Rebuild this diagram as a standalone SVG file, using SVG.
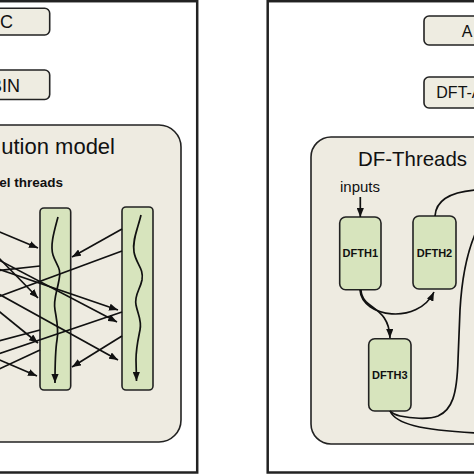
<svg xmlns="http://www.w3.org/2000/svg" width="474" height="474" viewBox="0 0 474 474">
<style>
.frame{fill:#ffffff;stroke:#222;stroke-width:2.5}
.box{fill:#eeece1;stroke:#222;stroke-width:1.6}
.panel{fill:#eeebe1;stroke:#222;stroke-width:1.6}
.thr{fill:#d7e4bd;stroke:#222;stroke-width:1.6}
.lbl{font-family:"Liberation Sans",Arial,sans-serif;fill:#111}
.b{font-weight:bold}
.ln{fill:none;stroke:#111;stroke-width:1.7}
</style>
<defs>
<marker id="ah" viewBox="0 0 10 8" refX="10" refY="4" markerWidth="9" markerHeight="7.2" markerUnits="userSpaceOnUse" orient="auto">
<path d="M0,0 L10,4 L0,8 z" fill="#111"/>
</marker>
</defs>
<rect width="474" height="474" fill="#ffffff"/>
<g id="frame-left"><rect class="frame" x="-10" y="1.2" width="207.2" height="471.3"/></g>
<g id="frame-right"><rect class="frame" x="267.7" y="1.2" width="230" height="471.3"/></g>
<g id="node-c"><rect class="box" x="-20" y="8.3" width="69.7" height="26.7" rx="5"/><text class="lbl" x="13" y="28.3" font-size="18" text-anchor="end">C</text></g>
<g id="node-bin"><rect class="box" x="-20" y="70" width="69.7" height="29.5" rx="5"/><text class="lbl" x="20" y="92" font-size="18" text-anchor="end">BIN</text></g>
<g id="panel-exec"><rect class="panel" x="-40" y="125" width="221" height="317" rx="22"/>
<text class="lbl" x="115" y="154" font-size="22" text-anchor="end">ution model</text>
<text class="lbl b" x="63" y="187" font-size="13.5" text-anchor="end">el threads</text></g>
<g id="thread1"><rect class="thr" x="40" y="208" width="30.7" height="182" rx="4"/></g>
<g id="thread2"><rect class="thr" x="122" y="207" width="31" height="183" rx="4"/></g>
<g id="connectors-exec">
<path class="ln" marker-end="url(#ah)" d="M58,217 C54,232 50,245 53,255 C56,265 62,268 59,280 C57,292 53,300 55,310 C57,322 59,330 57,340 C55,352 55,365 55,383"/>
<path class="ln" marker-end="url(#ah)" d="M141,215 C138,228 132,240 134,252 C136,264 144,268 142,280 C140,290 134,295 136,305 C138,315 142,320 140,330 C138,340 136,348 136,360 L136.5,381"/>
<line class="ln" marker-end="url(#ah)" x1="-5" y1="230" x2="38" y2="248"/>
<line class="ln" marker-end="url(#ah)" x1="-5" y1="254" x2="38" y2="298"/>
<line class="ln" marker-end="url(#ah)" x1="-5" y1="308" x2="38" y2="343"/>
<line class="ln" marker-end="url(#ah)" x1="-5" y1="358" x2="37" y2="376"/>
<line class="ln" x1="40" y1="266" x2="-5" y2="271"/>
<line class="ln" x1="40" y1="330" x2="-5" y2="342"/>
<line class="ln" x1="40" y1="350" x2="-5" y2="371"/>
<line class="ln" marker-end="url(#ah)" x1="122" y1="229" x2="72" y2="257"/>
<line class="ln" marker-end="url(#ah)" x1="122" y1="336" x2="72" y2="367"/>
<line class="ln" marker-end="url(#ah)" x1="-5" y1="268" x2="118" y2="310"/>
<line class="ln" marker-end="url(#ah)" x1="-5" y1="258" x2="117" y2="322"/>
<line class="ln" marker-end="url(#ah)" x1="-5" y1="292" x2="118" y2="360"/>
<line class="ln" x1="122" y1="251" x2="-5" y2="298"/>
<line class="ln" x1="122" y1="312" x2="-5" y2="355"/>
</g>
<g id="node-a"><rect class="box" x="424" y="16" width="80" height="29" rx="5"/><text class="lbl" x="461.7" y="36.7" font-size="16">A</text></g>
<g id="node-dfta"><rect class="box" x="424" y="77" width="80" height="31" rx="5"/><text class="lbl" x="436.3" y="98" font-size="16">DFT-A</text></g>
<g id="panel-df"><rect class="panel" x="311" y="137" width="220" height="307" rx="20"/>
<text class="lbl" x="358" y="166" font-size="21" textLength="109" lengthAdjust="spacingAndGlyphs">DF-Threads</text>
<text class="lbl" x="340" y="192" font-size="14" textLength="40" lengthAdjust="spacingAndGlyphs">inputs</text></g>
<g id="dfth1"><rect class="thr" x="339.7" y="217" width="41.3" height="72.7" rx="6"/><text class="lbl b" x="360.3" y="256.5" font-size="11" text-anchor="middle">DFTH1</text></g>
<g id="dfth2"><rect class="thr" x="413" y="216" width="43" height="73" rx="6"/><text class="lbl b" x="434.5" y="257" font-size="11" text-anchor="middle">DFTH2</text></g>
<g id="dfth3"><rect class="thr" x="368.7" y="338.7" width="42.3" height="72.3" rx="6"/><text class="lbl b" x="389.8" y="378.5" font-size="11" text-anchor="middle">DFTH3</text></g>
<g id="connectors-df">
<line class="ln" marker-end="url(#ah)" x1="360.3" y1="197" x2="360.3" y2="217"/>
<path class="ln" marker-end="url(#ah)" d="M360,290 C362,318 418,325 434,292"/>
<path class="ln" marker-end="url(#ah)" d="M361,290 C362,310 389,305 390,338"/>
<path class="ln" d="M435,216 C436,200 450,192 476,190"/>
<path class="ln" d="M476,232 C468,250 462,275 460,310 L458,360 C457,395 452,410 438,416 C428,420 410,418 400,416 C395,415 392,413 390,411"/>
<path class="ln" d="M390,411 C396,424 420,430 476,433"/>
</g>
</svg>
